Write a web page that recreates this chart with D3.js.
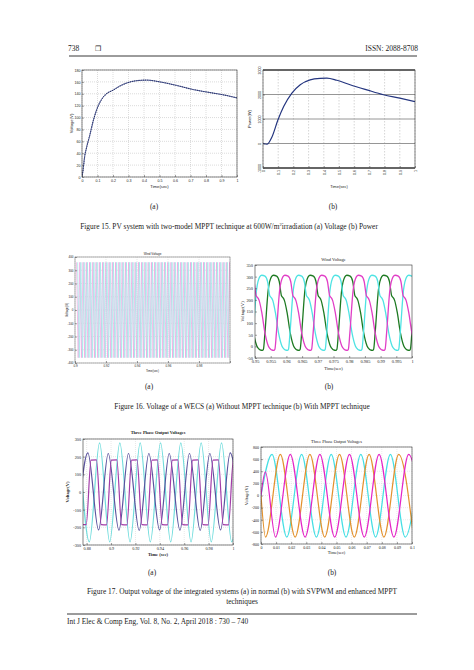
<!DOCTYPE html>
<html lang="en">
<head>
  <meta charset="UTF-8" />
  <title>Figures 15-17</title>
  <script src="https://d3js.org/d3.v7.min.js"></script>
  <style>
    body { margin: 0; background: #fff; }
    svg text { font-family: "Liberation Serif", "DejaVu Serif", serif; fill: #222; }
  </style>
</head>
<body>
<script>
  // ---- Figure 15 (a): PV voltage
  const pvTime    = [0, 0.006, 0.017, 0.028, 0.05, 0.071, 0.093, 0.125, 0.158, 0.2, 0.244, 0.287, 0.352, 0.417, 0.503, 0.611, 0.719, 0.827, 0.935, 1];
  const pvVoltage = [0, 10, 34, 48, 70, 93, 112, 130, 140, 146, 153, 158, 162, 163, 160, 154, 147, 142, 137, 133];
  const pvVoltTicks = [0, 20, 40, 60, 80, 100, 120, 140, 160, 180];
  const pvTimeTicks = [0, 0.1, 0.2, 0.3, 0.4, 0.5, 0.6, 0.7, 0.8, 0.9, 1];

  // ---- Figure 15 (b): PV power
  const pvPowerTime = [0, 0.026, 0.059, 0.098, 0.136, 0.19, 0.245, 0.31, 0.376, 0.42, 0.486, 0.573, 0.683, 0.792, 0.9, 1];
  const pvPower     = [0, -30, 270, 960, 1510, 2060, 2400, 2600, 2660, 2670, 2580, 2400, 2190, 1990, 1850, 1710];
  const pvPowerTicks = [-1000, 0, 1000, 2000, 3000];

  // ---- Figure 16 (a): WECS voltage without MPPT (peak times of each phase)
  const wecsAPinkPeaks = [0.9010, 0.9031, 0.9052, 0.9073, 0.9094, 0.9115, 0.9136, 0.9157, 0.9178, 0.9199, 0.9220, 0.9241,
    0.9262, 0.9283, 0.9304, 0.9325, 0.9346, 0.9367, 0.9388, 0.9409, 0.9430, 0.9451, 0.9472, 0.9493, 0.9514, 0.9535,
    0.9556, 0.9577, 0.9598, 0.9619, 0.9640, 0.9661, 0.9682, 0.9703, 0.9724, 0.9745, 0.9766, 0.9787, 0.9808, 0.9829,
    0.9850, 0.9871, 0.9892, 0.9913, 0.9934, 0.9955, 0.9976, 0.9997];
  const wecsACyanPeaks = [0.9017, 0.9038, 0.9059, 0.9080, 0.9101, 0.9122, 0.9143, 0.9164, 0.9185, 0.9206, 0.9227, 0.9248,
    0.9269, 0.9290, 0.9311, 0.9332, 0.9353, 0.9374, 0.9395, 0.9416, 0.9437, 0.9458, 0.9479, 0.9500, 0.9521, 0.9542,
    0.9563, 0.9584, 0.9605, 0.9626, 0.9647, 0.9668, 0.9689, 0.9710, 0.9731, 0.9752, 0.9773, 0.9794, 0.9815, 0.9836,
    0.9857, 0.9878, 0.9899, 0.9920, 0.9941, 0.9962, 0.9983];
  const wecsAPeriod = 0.0021;
  const wecsAShape = [[0, 360], [0.5, -360]];
  const wecsAYTicks = [-400, -300, -200, -100, 0, 100, 200, 300, 400];
  const wecsAXTicks = [0.9, 0.92, 0.94, 0.96, 0.98, 1];

  // ---- Figure 16 (b): WECS voltage with MPPT (one cycle shape + peak times)
  const wecsBPeriod = 0.0117;
  const wecsBShape = [[-0.36, -15], [-0.3, -17], [-0.27, -12], [-0.23, 57], [-0.14, 243], [-0.05, 300], [0, 306],
    [0.09, 302], [0.16, 279], [0.22, 218], [0.26, 210], [0.3, 198], [0.37, 148], [0.46, 57], [0.55, 2], [0.62, -13]];
  const wecsBGreenPeaks   = [0.94415, 0.95585, 0.96755, 0.97925, 0.99095, 1.00265];
  const wecsBCyanPeaks    = [0.94043, 0.95213, 0.96383, 0.97553, 0.98723, 0.99894];
  const wecsBMagentaPeaks = [0.9478, 0.9595, 0.9712, 0.9829, 0.9946, 1.0063];
  const wecsBYTicks = [-50, 0, 50, 100, 150, 200, 250, 300, 350];
  const wecsBXTicks = [0.95, 0.955, 0.96, 0.965, 0.97, 0.975, 0.98, 0.985, 0.99, 0.995, 1];

  // ---- Figure 17 (a): integrated output, normal
  const outACyan = [[0.8739, 278], [0.8822, -282], [0.8906, 278], [0.8989, -282], [0.9072, 278], [0.9156, -282],
    [0.9239, 278], [0.9322, -282], [0.9406, 278], [0.9489, -282], [0.9572, 278], [0.9656, -282], [0.9739, 278],
    [0.9822, -282], [0.9906, 278], [0.9989, -282], [1.0072, 278]];
  const outAPurple = [[0.8722, -215], [0.8810, 222], [0.8898, -215], [0.8977, 218], [0.9065, -216], [0.9143, 218],
    [0.9231, -217], [0.9310, 218], [0.9398, -215], [0.9477, 218], [0.9565, -216], [0.9643, 218], [0.9731, -217],
    [0.9810, 218], [0.9898, -215], [0.9977, 222], [1.0065, -215]];
  const outAMagenta = [[0.8753, -185], [0.8796, -185], [0.8836, 180], [0.8880, 182], [0.8920, -185], [0.8963, -186],
    [0.9003, 180], [0.9047, 182], [0.9087, -185], [0.9130, -186], [0.9169, 180], [0.9213, 182], [0.9253, -185],
    [0.9296, -186], [0.9336, 180], [0.9380, 182], [0.9420, -185], [0.9463, -186], [0.9503, 180], [0.9547, 182],
    [0.9587, -185], [0.9630, -186], [0.9669, 180], [0.9713, 182], [0.9753, -185], [0.9796, -186], [0.9836, 180],
    [0.9880, 182], [0.9920, -185], [0.9963, -186], [1.0003, 180], [1.0047, 182]];
  const outAYTicks = [-300, -200, -100, 0, 100, 200, 300];
  const outAXTicks = [0.88, 0.9, 0.92, 0.94, 0.96, 0.98, 1];

  // ---- Figure 17 (b): with SVPWM and enhanced MPPT
  const outBCyan = [[0, 0], [0.0073, 680], [0.0171, -685], [0.0269, 680], [0.0367, -685], [0.0465, 680],
    [0.0563, -685], [0.0661, 680], [0.0759, -685], [0.0857, 680], [0.0955, -685], [0.1053, 680]];
  const outBOrange = [[0, 0], [0.0030, -685], [0.0128, 680], [0.0226, -685], [0.0324, 680], [0.0422, -685],
    [0.0520, 680], [0.0618, -685], [0.0716, 680], [0.0814, -685], [0.0912, 680], [0.1010, -685]];
  const outBMagenta = [[0, 0], [0.0029, 390], [0.0096, -685], [0.0194, 680], [0.0292, -685], [0.0390, 680],
    [0.0488, -685], [0.0586, 680], [0.0684, -685], [0.0782, 680], [0.0880, -685], [0.0978, 680], [0.1076, -685]];
  const outBYTicks = [-800, -600, -400, -200, 0, 200, 400, 600, 800];
  const outBXTicks = [0, 0.01, 0.02, 0.03, 0.04, 0.05, 0.06, 0.07, 0.08, 0.09, 0.1];

  const svg = d3.select("body").append("svg")
    .attr("width", 474).attr("height", 670);

  let clipCount = 0;
  const sans = "'Liberation Sans', Arial, sans-serif";
  const serif = "'Liberation Serif', 'Times New Roman', serif";

  // build a waveform from a one-period shape placed at each peak
  function wavePoints(peaks, shape, period) {
    const pts = [];
    peaks.forEach(p => shape.forEach(s => pts.push([p + s[0] * period, s[1]])));
    return pts.sort((a, b) => a[0] - b[0]);
  }

  function makePanel(o) {
    const g = svg.append("g");
    const x = d3.scaleLinear().domain(o.xDomain).range([o.left, o.right]);
    const y = d3.scaleLinear().domain(o.yDomain).range([o.bottom, o.top]);
    const id = "clip" + (clipCount++);
    g.append("clipPath").attr("id", id).append("rect")
      .attr("x", o.left).attr("y", o.top)
      .attr("width", o.right - o.left).attr("height", o.bottom - o.top);

    // grid
    if (o.gridX) {
      g.append("g").selectAll("line").data(o.xTicks).join("line")
        .attr("x1", d => x(d)).attr("x2", d => x(d))
        .attr("y1", o.top).attr("y2", o.bottom)
        .attr("stroke", o.gridX.color).attr("stroke-width", o.gridX.width || 0.5)
        .attr("stroke-dasharray", o.gridX.dash || null);
    }
    if (o.gridY) {
      g.append("g").selectAll("line").data(o.yTicks).join("line")
        .attr("x1", o.left).attr("x2", o.right)
        .attr("y1", d => y(d)).attr("y2", d => y(d))
        .attr("stroke", o.gridY.color).attr("stroke-width", o.gridY.width || 0.5)
        .attr("stroke-dasharray", o.gridY.dash || null);
    }

    // lines
    const plot = g.append("g").attr("clip-path", `url(#${id})`);
    o.series.forEach(s => {
      const line = d3.line()
        .x(d => x(d[0])).y(d => y(d[1]))
        .curve(s.curve || d3.curveMonotoneX);
      plot.append("path").datum(s.points)
        .attr("fill", "none").attr("stroke", s.color)
        .attr("stroke-width", s.width || 1)
        .attr("d", line);
      if (s.dash) {
        plot.append("path").datum(s.points)
          .attr("fill", "none").attr("stroke", s.dash.color)
          .attr("stroke-width", s.dash.width)
          .attr("stroke-dasharray", s.dash.pattern)
          .attr("d", line);
      }
    });

    // box
    g.append("rect").attr("x", o.left).attr("y", o.top)
      .attr("width", o.right - o.left).attr("height", o.bottom - o.top)
      .attr("fill", "none").attr("stroke", o.boxColor || "#333").attr("stroke-width", 0.6);

    // axes
    const xa = g.append("g").attr("transform", `translate(0,${o.bottom})`)
      .call(d3.axisBottom(x).tickValues(o.xTicks)
        .tickFormat((d, i) => (o.xLabels ? o.xLabels[i] : d))
        .tickSize(-2).tickPadding(o.xPad || 2));
    const ya = g.append("g").attr("transform", `translate(${o.left},0)`)
      .call(d3.axisLeft(y).tickValues(o.yTicks)
        .tickFormat((d, i) => (o.yLabels ? o.yLabels[i] : d))
        .tickSize(-2).tickPadding(o.yPad || 2));
    [xa, ya].forEach(a => {
      a.select(".domain").remove();
      a.selectAll("line").attr("stroke", "#444").attr("stroke-width", 0.5);
      a.selectAll("text").style("font-family", o.font).attr("font-size", o.fs).attr("fill", "#222");
    });
    if (o.rotateX) {
      xa.selectAll("text").attr("transform", "rotate(-90)")
        .attr("text-anchor", "end").attr("x", -(o.xPad || 2)).attr("y", 0).attr("dy", "0.35em");
    }
    if (o.rotateY) {
      ya.selectAll("text").attr("transform", "rotate(-90)")
        .attr("text-anchor", "middle").attr("x", 0).attr("y", -(o.yPad || 2)).attr("dy", "0");
    }

    // titles
    if (o.title) {
      g.append("text").attr("x", (o.left + o.right) / 2).attr("y", o.titleY)
        .attr("text-anchor", "middle").attr("font-size", o.titleFs || o.fs)
        .attr("font-weight", o.titleBold ? "bold" : null)
        .style("font-family", o.font).text(o.title);
    }
    g.append("text").attr("x", (o.left + o.right) / 2).attr("y", o.xLabelY)
      .attr("text-anchor", "middle").attr("font-size", o.labelFs || o.fs)
      .attr("font-weight", o.labelBold ? "bold" : null)
      .style("font-family", o.font).text(o.xLabel);
    g.append("text")
      .attr("transform", `translate(${o.yLabelX},${(o.top + o.bottom) / 2}) rotate(-90)`)
      .attr("text-anchor", "middle").attr("font-size", o.labelFs || o.fs)
      .attr("font-weight", o.labelBold ? "bold" : null)
      .style("font-family", o.font).text(o.yLabel);
    return { x, y };
  }

  // ---------- page header ----------
  svg.append("text").attr("x", 68).attr("y", 51).attr("font-size", 7.5).text("738");
  svg.append("text").attr("x", 95).attr("y", 51).attr("font-size", 7)
    .style("font-family", "'DejaVu Sans', sans-serif").text("❒");
  svg.append("text").attr("x", 418).attr("y", 51).attr("font-size", 7.5)
    .attr("text-anchor", "end").text("ISSN: 2088-8708");
  svg.append("line").attr("x1", 69).attr("x2", 417).attr("y1", 56).attr("y2", 56)
    .attr("stroke", "#222").attr("stroke-width", 0.9);

  // ---------- Figure 15 (a) ----------
  makePanel({
    left: 82, right: 237, top: 70, bottom: 177,
    xDomain: [0, 1], yDomain: [0, 180],
    xTicks: pvTimeTicks, yTicks: pvVoltTicks,
    font: sans, fs: 3.6, xPad: 2, yPad: 1.5,
    gridX: { color: "#b8b8b8", dash: "1,1" }, gridY: { color: "#b8b8b8", dash: "1,1" },
    series: [{
      points: pvTime.map((t, i) => [t, pvVoltage[i]]),
      color: "#3b4a8c", width: 0.9,
      dash: { color: "#141a4a", width: 1.2, pattern: "0.6,1.6" }
    }],
    xLabel: "Time(sec)", xLabelY: 188, yLabel: "Voltage(V)", yLabelX: 73, labelFs: 4.2
  });

  // ---------- Figure 15 (b) ----------
  makePanel({
    left: 263, right: 415, top: 70, bottom: 168,
    xDomain: [0, 1], yDomain: [-1000, 3000],
    xTicks: pvTimeTicks, yTicks: pvPowerTicks,
    font: sans, fs: 3.6, xPad: 2, yPad: 2, rotateX: true, rotateY: true,
    gridX: { color: "#aaa", dash: "1.5,1.5" }, gridY: { color: "#8a8a8a", width: 0.9 },
    series: [{
      points: pvPowerTime.map((t, i) => [t, pvPower[i]]),
      color: "#24357f", width: 1.2
    }],
    xLabel: "Time(sec)", xLabelY: 188, yLabel: "Power(W)", yLabelX: 251, labelFs: 4
  });
  // heavier top and bottom frame lines on (b)
  svg.append("line").attr("x1", 263).attr("x2", 415).attr("y1", 70).attr("y2", 70)
    .attr("stroke", "#555").attr("stroke-width", 1.6);
  svg.append("line").attr("x1", 263).attr("x2", 415).attr("y1", 168).attr("y2", 168)
    .attr("stroke", "#555").attr("stroke-width", 1.4);

  // ---------- Figure 16 (a) ----------
  makePanel({
    left: 75, right: 230, top: 257, bottom: 363,
    xDomain: [0.9, 1], yDomain: [-400, 400],
    xTicks: wecsAXTicks, yTicks: wecsAYTicks,
    xLabels: ["0.9", "0.92", "0.94", "0.96", "0.98", ""],
    font: sans, fs: 3, xPad: 2, yPad: 1.5,
    gridX: { color: "#cfcfcf", dash: "1,1" }, gridY: { color: "#cfcfcf", dash: "1,1" },
    boxColor: "#777",
    series: [
      { points: wavePoints(wecsAPinkPeaks, wecsAShape, wecsAPeriod), color: "#eea3e0", width: 0.7, curve: d3.curveLinear },
      { points: wavePoints(wecsACyanPeaks, wecsAShape, wecsAPeriod), color: "#9fe6e6", width: 0.7, curve: d3.curveLinear }
    ],
    title: "Wind Voltage", titleY: 255, titleFs: 3,
    xLabel: "Time(sec)", xLabelY: 372, yLabel: "Voltage(V)", yLabelX: 68, labelFs: 3
  });

  // ---------- Figure 16 (b) ----------
  makePanel({
    left: 255, right: 412, top: 265, bottom: 358,
    xDomain: [0.95, 1], yDomain: [-50, 350],
    xTicks: wecsBXTicks, yTicks: wecsBYTicks,
    font: serif, fs: 4.4, xPad: 2, yPad: 2,
    series: [
      { points: wavePoints(wecsBGreenPeaks, wecsBShape, wecsBPeriod), color: "#1e7a22", width: 1.3 },
      { points: wavePoints(wecsBCyanPeaks, wecsBShape, wecsBPeriod), color: "#4fe3e3", width: 1.3 },
      { points: wavePoints(wecsBMagentaPeaks, wecsBShape, wecsBPeriod), color: "#e13ec6", width: 1.3 }
    ],
    title: "Wind Voltage", titleY: 261, titleFs: 4.5,
    xLabel: "Time(sec)", xLabelY: 370, yLabel: "Voltage(V)", yLabelX: 244, labelFs: 4.6
  });

  // ---------- Figure 17 (a) ----------
  makePanel({
    left: 83, right: 233, top: 439, bottom: 545,
    xDomain: [0.877, 1], yDomain: [-300, 300],
    xTicks: outAXTicks, yTicks: outAYTicks,
    font: serif, fs: 4.2, xPad: 2, yPad: 2,
    gridX: { color: "#d0d0d0", dash: "1,1" }, gridY: { color: "#d0d0d0", dash: "1,1" },
    series: [
      { points: outACyan, color: "#6fdcdc", width: 1.2 },
      { points: outAPurple, color: "#5a529e", width: 1.2 },
      { points: outAMagenta, color: "#a23ca8", width: 1.2 }
    ],
    title: "Three Phase Output Voltages", titleY: 434, titleFs: 4.4, titleBold: true,
    xLabel: "Time (sec)", xLabelY: 556, yLabel: "Voltage(V)", yLabelX: 69, labelFs: 4.6, labelBold: true
  });

  // ---------- Figure 17 (b) ----------
  makePanel({
    left: 261, right: 412, top: 447, bottom: 544,
    xDomain: [0, 0.1], yDomain: [-800, 800],
    xTicks: outBXTicks, yTicks: outBYTicks,
    font: serif, fs: 4, xPad: 2, yPad: 2,
    gridX: { color: "#d6d6d6", dash: "1,1" }, gridY: { color: "#d6d6d6", dash: "1,1" },
    series: [
      { points: outBCyan, color: "#44dfe4", width: 1.2 },
      { points: outBOrange, color: "#e3922e", width: 1.2 },
      { points: outBMagenta, color: "#e424c6", width: 1.2 }
    ],
    title: "Three Phase Output Voltages", titleY: 443, titleFs: 4.4,
    xLabel: "Time(sec)", xLabelY: 554, yLabel: "Voltage(V)", yLabelX: 248, labelFs: 4.4
  });

  // ---------- sub-labels and captions ----------
  const fsCap = 7.4;
  [["(a)", 154, 209], ["(b)", 333, 209], ["(a)", 149, 389], ["(b)", 329, 389], ["(a)", 152, 575], ["(b)", 332, 575]]
    .forEach(d => svg.append("text").attr("x", d[1]).attr("y", d[2])
      .attr("text-anchor", "middle").attr("font-size", fsCap).text(d[0]));

  const cap15 = svg.append("text").attr("x", 229).attr("y", 229)
    .attr("text-anchor", "middle").attr("font-size", fsCap);
  cap15.append("tspan").text("Figure 15. PV system with two-model MPPT technique at 600W/m");
  cap15.append("tspan").attr("font-size", 4.5).attr("dy", -3).text("2");
  cap15.append("tspan").attr("dy", 3).text("irradiation (a) Voltage (b) Power");

  svg.append("text").attr("x", 242).attr("y", 409).attr("text-anchor", "middle")
    .attr("font-size", fsCap).text("Figure 16. Voltage of a WECS (a) Without MPPT technique (b) With MPPT technique");

  svg.append("text").attr("x", 242).attr("y", 594).attr("text-anchor", "middle")
    .attr("font-size", fsCap).text("Figure 17. Output voltage of the integrated systems (a) in normal (b) with SVPWM and enhanced MPPT");
  svg.append("text").attr("x", 242).attr("y", 604).attr("text-anchor", "middle")
    .attr("font-size", fsCap).text("techniques");

  // ---------- footer ----------
  svg.append("line").attr("x1", 67).attr("x2", 417).attr("y1", 614).attr("y2", 614)
    .attr("stroke", "#222").attr("stroke-width", 0.9);
  svg.append("text").attr("x", 67).attr("y", 624).attr("font-size", fsCap)
    .text("Int J Elec & Comp Eng, Vol. 8, No. 2, April 2018 :  730 – 740");
</script>
</body>
</html>
